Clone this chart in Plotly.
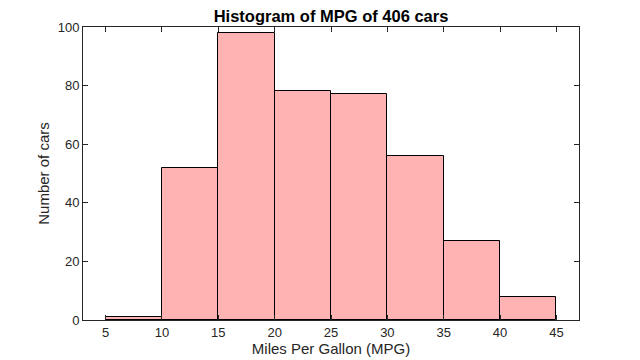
import plotly.graph_objects as go

bin_edges = [5, 10, 15, 20, 25, 30, 35, 40, 45]
counts = [1, 52, 98, 78, 77, 56, 27, 8]
x_ticks = [5, 10, 15, 20, 25, 30, 35, 40, 45]
y_ticks = [0, 20, 40, 60, 80, 100]

centers = [(a + b) / 2 for a, b in zip(bin_edges[:-1], bin_edges[1:])]
widths = [b - a for a, b in zip(bin_edges[:-1], bin_edges[1:])]

fig = go.Figure(go.Bar(
    x=centers, y=counts, width=widths,
    marker=dict(color="rgb(255,179,179)", line=dict(color="black", width=1)),
))

font = "Liberation Sans, Arial, Helvetica, sans-serif"
axis_common = dict(
    showline=True, linecolor="#262626", linewidth=1, mirror="ticks",
    ticks="inside", ticklen=5, tickcolor="#262626", tickwidth=1,
    showgrid=False, zeroline=False, automargin=False,
    tickfont=dict(size=13, color="#262626", family=font),
)
# page has an 8px body margin, so the figure is sized to fit the remaining window
fig.update_layout(
    width=632, height=352,
    margin=dict(l=75, r=61, t=19, b=40, autoexpand=False),
    paper_bgcolor="white", plot_bgcolor="white",
    showlegend=False, bargap=0,
    title=dict(text="<b>Histogram of MPG of 406 cars</b>", x=0.5, xanchor="center",
               xref="paper", y=0.96, yref="container", yanchor="bottom",
               automargin=False,
               font=dict(size=16.5, color="black", family=font)),
    xaxis=dict(range=[3, 47], tickvals=x_ticks, **axis_common,
               title=dict(text="Miles Per Gallon (MPG)", standoff=1,
                          font=dict(size=15, color="#262626", family=font))),
    yaxis=dict(range=[0, 100], tickvals=y_ticks, **axis_common,
               title=dict(text="Number of cars", standoff=4,
                          font=dict(size=15, color="#262626", family=font))),
)
fig.write_html("out.html")
